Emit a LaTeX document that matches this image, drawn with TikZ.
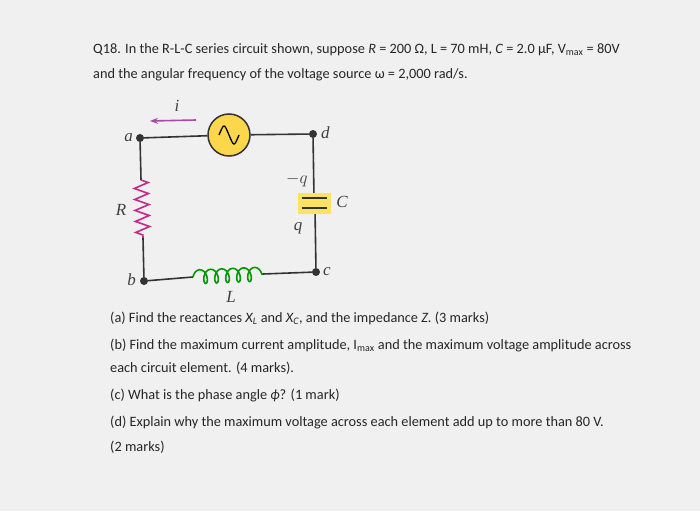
\documentclass[tikz,border=0pt]{standalone}
\usepackage{fontspec}
\setmainfont{Carlito}
\newfontfamily\serifit{Liberation Serif}
\usetikzlibrary{decorations.pathmorphing,arrows.meta}
\begin{document}
\begin{tikzpicture}[x=1pt,y=-1pt,
  txt/.style={anchor=west,inner sep=0pt,font=\fontsize{14.3}{16}\selectfont,text=black!85},
  lbl/.style={font=\serifit\itshape\fontsize{17}{17}\selectfont,text=black!75,inner sep=1pt},
  wire/.style={line width=1.6pt,draw=black!80},
  dot/.style={circle,fill=black!80,inner sep=0pt,minimum size=8pt}]
\fill[black!6] (0,0) rectangle (700,511);
\useasboundingbox (0,0) rectangle (700,511);
\node[txt] (t1) at (93,50) {Q18. In the R-L-C series circuit shown, suppose \textit{R} = 200 Ω, L = 70 mH, \textit{C} = 2.0 μF, V\textsubscript{max} = 80V};
\node[txt] (t2) at (93,75) {and the angular frequency of the voltage source ω = 2,000 rad/s.};
\node[txt] (qa) at (110,318) {(a) Find the reactances \textit{X\textsubscript{L}} and \textit{X\textsubscript{C}}, and the impedance \textit{Z}. (3 marks)};
\node[txt] (qb1) at (110,345) {(b) Find the maximum current amplitude, I\textsubscript{max} and the maximum voltage amplitude across};
\node[txt] (qb2) at (110,368) {each circuit element. (4 marks).};
\node[txt] (qc) at (110,395) {(c) What is the phase angle \textit{ϕ}? (1 mark)};
\node[txt] (qd1) at (110,422) {(d) Explain why the maximum voltage across each element add up to more than 80 V.};
\node[txt] (qd2) at (110,447) {(2 marks)};
% circuit
\node[dot] (a) at (140,138) {};
\node[dot] (d) at (313,134) {};
\node[dot] (b) at (144,281) {};
\node[dot] (c) at (316,272) {};
\node[circle,draw=black!80,line width=1.5pt,fill=yellow!60!orange!70,minimum size=42pt,inner sep=0pt] (src) at (229,135) {};
\draw[line width=1.3pt] ([xshift=-10pt]src.center) .. controls +(5,-12) and +(-5,-12) .. (src.center) .. controls +(5,12) and +(-5,12) .. ([xshift=10pt]src.center);
\coordinate (r1) at (141,180);
\coordinate (r2) at (143,238);
\coordinate (l1) at (193,277);
\coordinate (l2) at (263,274);
\coordinate (c1) at (314,198);
\coordinate (c2) at (315,209);
\draw[wire] (src) -- (a) -- (r1);
\draw[line width=1.6pt,draw=magenta!80!black,decorate,decoration={zigzag,segment length=11pt,amplitude=7pt}] (r1) -- (r2);
\draw[wire] (r2) -- (b) -- (l1);
\draw[line width=1.6pt,draw=green!60!black,decorate,decoration={coil,aspect=0.6,segment length=11pt,amplitude=7pt}] (l1) -- (l2);
\draw[wire] (l2) -- (c) -- (c2);
\draw[wire] (src) -- (d) -- (c1);
\fill[yellow!70!orange!60] (298,193) rectangle (331,214);
\draw[line width=2pt,black!80] (302,198) -- (327,198);
\draw[line width=2pt,black!80] (302,208) -- (327,208);
\draw[-{Stealth[length=8pt]},line width=1.6pt,draw=violet!70] (196,120) -- (150,121);
\node[lbl] (il) at (177,106) {i};
\node[lbl,anchor=east] (al) at (134,138) {a};
\node[lbl,anchor=west] (dl) at (320,133) {d};
\node[lbl,anchor=east] (bl) at (137,280) {b};
\node[lbl,anchor=west] (cl) at (322,272) {c};
\node[lbl] (Rl) at (121,210) {R};
\node[lbl] (Ll) at (231,297) {L};
\node[lbl] (Cl) at (342,202) {C};
\node[lbl] (mq) at (297,180) {$-q$};
\node[lbl] (pq) at (298,228) {q};
\end{tikzpicture}
\end{document}
